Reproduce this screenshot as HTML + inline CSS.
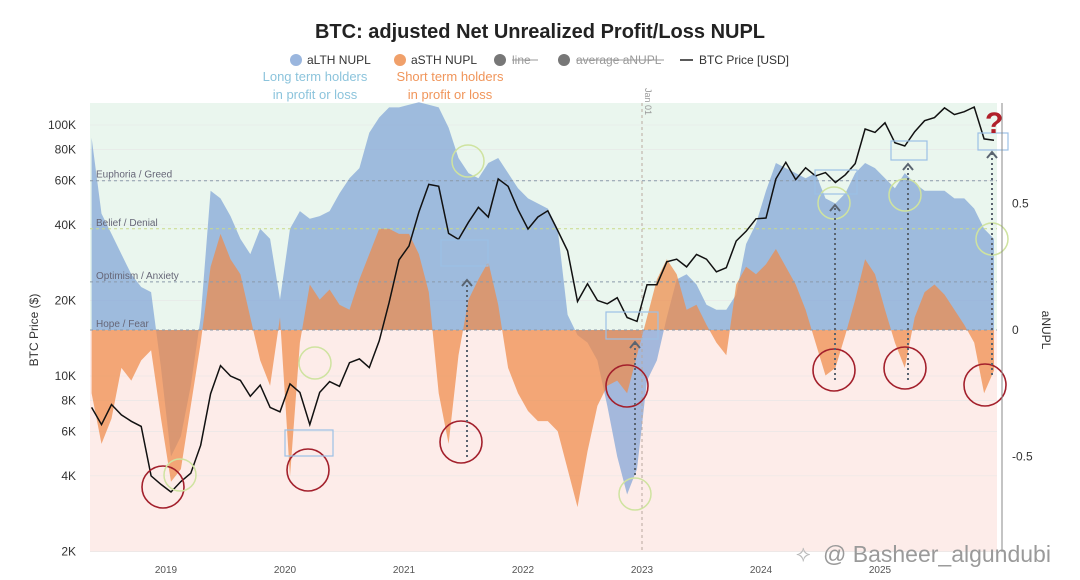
<!DOCTYPE html>
<html><head><meta charset="utf-8">
<style>
html,body{margin:0;padding:0;background:#fff;width:1080px;height:580px;overflow:hidden;font-family:"Liberation Sans",sans-serif;}
svg text{font-family:"Liberation Sans",sans-serif;}
</style></head>
<body>
<svg id="chart" width="1080" height="580" viewBox="0 0 1080 580">
  <text x="540" y="38" text-anchor="middle" font-size="20" font-weight="bold" fill="#222">BTC: adjusted Net Unrealized Profit/Loss NUPL</text>
  <g font-size="12" fill="#333">
    <g><circle cx="296" cy="60" r="6" fill="#9ab6de"/><text x="307" y="64">aLTH NUPL</text></g>
    <g><circle cx="400" cy="60" r="6" fill="#f0a06a"/><text x="411" y="64">aSTH NUPL</text></g>
    <g><circle cx="500" cy="60" r="6" fill="#777"/><text x="512" y="64" fill="#999">line</text><line x1="512" y1="60" x2="538" y2="60" stroke="#999"/></g>
    <g><circle cx="564" cy="60" r="6" fill="#777"/><text x="576" y="64" fill="#999">average aNUPL</text><line x1="576" y1="60" x2="664" y2="60" stroke="#999"/></g>
    <g><line x1="680" y1="60" x2="693" y2="60" stroke="#222" stroke-width="1.5"/><text x="699" y="64">BTC Price [USD]</text></g>
  </g>
  <text x="315" y="81" text-anchor="middle" font-size="13" fill="#8cc4dc">Long term holders</text>
  <text x="315" y="99" text-anchor="middle" font-size="13" fill="#8cc4dc">in profit or loss</text>
  <text x="450" y="81" text-anchor="middle" font-size="13" fill="#f0955a">Short term holders</text>
  <text x="450" y="99" text-anchor="middle" font-size="13" fill="#f0955a">in profit or loss</text>

  <rect x="90" y="103" width="907" height="227" fill="#eaf6ee"/>
  <rect x="90" y="330" width="907" height="222" fill="#fdece9"/>
  <g id="grid"></g>
  <g id="areas"></g>
  <g id="zones"></g>
  <g id="priceg"></g>
  <g id="marks"></g>
  <g id="axes"></g>
  <text x="0" y="0" transform="translate(38,330) rotate(-90)" text-anchor="middle" font-size="12" fill="#333">BTC Price ($)</text>
  <text x="0" y="0" transform="translate(1042,330) rotate(90)" text-anchor="middle" font-size="12" fill="#333">aNUPL</text>
  <text x="985" y="133" font-size="30" font-weight="bold" fill="#b0202a">?</text>
  <g fill="#9a9a9a">
    <text x="796" y="561" font-size="22" fill="#bbb">⟡</text>
    <text x="823" y="562" font-size="23">@ Basheer_algundubi</text>
  </g>
</svg>
<script>
const months = [];
for (let i = 0; i < 92; i++) months.push(2018.375 + i / 12);
const lthValues = [0.76,0.46,0.38,0.30,0.22,0.17,0.15,-0.15,-0.50,-0.42,-0.22,0.05,0.55,0.52,0.45,0.36,0.30,0.40,0.36,0.12,0.40,0.47,0.44,0.45,0.47,0.54,0.60,0.64,0.78,0.84,0.88,0.88,0.89,0.90,0.89,0.88,0.80,0.68,0.62,0.60,0.66,0.68,0.62,0.56,0.52,0.50,0.48,0.40,0.06,-0.02,-0.05,-0.12,-0.30,-0.50,-0.65,-0.55,-0.20,-0.12,0.05,0.20,0.22,0.18,0.10,0.08,0.08,0.14,0.34,0.42,0.55,0.66,0.64,0.62,0.60,0.62,0.52,0.50,0.54,0.62,0.66,0.64,0.60,0.56,0.62,0.58,0.55,0.55,0.55,0.52,0.52,0.48,0.40,0.36];
const sthValues = [-0.25,-0.45,-0.35,-0.15,-0.20,-0.12,-0.08,-0.35,-0.60,-0.55,-0.30,-0.05,0.25,0.38,0.28,0.22,0.05,-0.12,-0.22,0.05,-0.58,-0.05,0.18,0.12,0.16,0.10,0.08,0.20,0.30,0.40,0.40,0.38,0.38,0.30,0.15,-0.25,-0.45,-0.10,0.12,0.20,0.27,0.10,-0.15,-0.25,-0.32,-0.36,-0.36,-0.40,-0.55,-0.70,-0.48,-0.30,-0.22,-0.20,-0.25,-0.10,0.05,0.20,0.28,0.22,0.08,0.10,0.02,-0.05,-0.10,0.18,0.25,0.22,0.26,0.32,0.25,0.18,0.08,-0.05,-0.18,-0.15,-0.02,0.12,0.28,0.22,0.08,-0.05,-0.15,0.05,0.15,0.18,0.14,0.08,0.02,-0.05,-0.25,-0.16];
const priceValues = [7500,6400,7700,7000,6600,6300,4000,3700,3450,3800,4100,5300,8500,11000,10000,9600,8300,9200,7500,7200,9300,8600,6400,8600,9500,9100,11300,11700,10800,13800,19600,29000,33000,45000,58000,57000,37000,35000,41000,47000,43000,61000,57000,46000,38500,43000,45500,38000,31500,19800,23300,20000,19400,20500,17100,16500,23100,23100,28500,29200,27200,30500,29200,26000,27000,34500,37700,42300,42600,61000,71000,60600,67500,62700,64600,59000,63300,70200,96400,93400,102000,85000,82500,94000,104000,107000,117000,110000,113000,118000,88000,87000];
const priceTicks = [2000,4000,6000,8000,10000,20000,40000,60000,80000,100000];
const priceTickLabels = ["2K","4K","6K","8K","10K","20K","40K","60K","80K","100K"];
const nuplTicks = [-0.5,0,0.5];
const nuplTickLabels = ["-0.5","0","0.5"];
const yearTicks = [2019,2020,2021,2022,2023,2024,2025];
const zoneLevels = [0.59,0.40,0.19,0];
const zoneLabels = ["Euphoria / Greed","Belief / Denial","Optimism / Anxiety","Hope / Fear"];

const NS = "http://www.w3.org/2000/svg";
const X0 = 90, X1 = 997;
const xS = t => 166 + (t - 2019) * 119;
const yP = p => 125 + (5 - Math.log10(p)) * 251;
const yN = v => 330 - v * 253;
function mk(tag, attrs, parent) {
  const e = document.createElementNS(NS, tag);
  for (const k in attrs) e.setAttribute(k, attrs[k]);
  parent.appendChild(e);
  return e;
}
const cx = t => Math.max(X0, Math.min(X1, xS(t)));

const grid = document.getElementById('grid');
priceTicks.forEach(p => {
  const l = mk('line', {x1: X0, x2: X1, y1: yP(p), y2: yP(p), stroke: '#e6e6e6', 'stroke-width': 0.6}, grid);
  
  
});

const areas = document.getElementById('areas');
function areaPath(vals) {
  let d = `M${cx(months[0])},${yN(0)}`;
  vals.forEach((v, i) => { d += ` L${cx(months[i]).toFixed(1)},${yN(v).toFixed(1)}`; });
  d += ` L${cx(months[vals.length - 1])},${yN(0)} Z`;
  return d;
}
const lthA = mk('path', {d: areaPath(lthValues), fill: '#7ea3d6', 'fill-opacity': 0.7}, areas);


const sthA = mk('path', {d: areaPath(sthValues), fill: '#ee8a4a', 'fill-opacity': 0.72}, areas);



const zones = document.getElementById('zones');
zoneLevels.forEach((v, i) => {
  const col = i === 1 ? '#c9d98a' : '#8a9aaa';
  const l = mk('line', {x1: X0, x2: X1, y1: yN(v), y2: yN(v), stroke: col, 'stroke-width': 1, 'stroke-dasharray': '3,3'}, zones);
  
  
  const t = mk('text', {x: 96, y: yN(v) - 3, 'font-size': 10, fill: '#667'}, zones);
  t.textContent = zoneLabels[i];
  
  
});
const jl = mk('line', {x1: xS(2023), x2: xS(2023), y1: 103, y2: 552, stroke: '#b9a9a0', 'stroke-dasharray': '3,3'}, zones);


const jt = mk('text', {x: 0, y: 0, transform: `translate(${xS(2023) + 3},88) rotate(90)`, 'font-size': 9, fill: '#999'}, zones);
jt.textContent = 'Jan 01';



const pg = document.getElementById('priceg');
let pd = '';
priceValues.forEach((p, i) => { pd += (i ? ' L' : 'M') + cx(months[i]).toFixed(1) + ',' + yP(p).toFixed(1); });
const pl = mk('path', {d: pd, fill: 'none', stroke: '#111', 'stroke-width': 1.5}, pg);



const marks = document.getElementById('marks');
const redC = [[163,487],[308,470],[461,442],[627,386],[834,370],[905,368],[985,385]];
redC.forEach(c => {
  const e = mk('circle', {cx: c[0], cy: c[1], r: 21, fill: 'none', stroke: '#a3202c', 'stroke-width': 1.6}, marks);
  
  
});
const grC = [[180,475],[315,363],[468,161],[635,494],[834,203],[905,195],[992,239]];
grC.forEach(c => {
  const e = mk('circle', {cx: c[0], cy: c[1], r: 16, fill: 'none', stroke: '#cfe3a0', 'stroke-width': 1.5}, marks);
  
  
});
const boxes = [[285,430,48,26],[441,240,47,26],[606,312,52,27],[815,170,42,24],[891,141,36,19],[978,133,30,17]];
boxes.forEach(b => {
  const e = mk('rect', {x: b[0], y: b[1], width: b[2], height: b[3], fill: 'none', stroke: '#9cc0e6', 'stroke-width': 1.2}, marks);
  
  
});
const arrows = [[467,457,280],[635,475,342],[835,380,205],[908,380,164],[992,375,152]];
arrows.forEach(a => {
  const e = mk('line', {x1: a[0], x2: a[0], y1: a[1], y2: a[2], stroke: '#5a6470', 'stroke-width': 2, 'stroke-dasharray': '2,3'}, marks);
  
  
  const h = mk('path', {d: `M${a[0]-5},${a[2]+6} L${a[0]},${a[2]} L${a[0]+5},${a[2]+6}`, fill: 'none', stroke: '#5a6470', 'stroke-width': 2}, marks);
  
  
});

const ax = document.getElementById('axes');
const ra = mk('line', {x1: 1002, x2: 1002, y1: 103, y2: 552, stroke: '#888'}, ax);


priceTicks.forEach((p, i) => {
  const t = mk('text', {x: 76, y: yP(p) + 4, 'text-anchor': 'end', 'font-size': 12, fill: '#333'}, ax);
  t.textContent = priceTickLabels[i];
  
  
});
nuplTicks.forEach((v, i) => {
  const t = mk('text', {x: 1012, y: yN(v) + 4, 'font-size': 12, fill: '#333'}, ax);
  t.textContent = nuplTickLabels[i];
  
  
});
yearTicks.forEach(y => {
  const t = mk('text', {x: xS(y), y: 573, 'text-anchor': 'middle', 'font-size': 10, fill: '#555'}, ax);
  t.textContent = String(y);
  
  
});
</script>
</body></html>
